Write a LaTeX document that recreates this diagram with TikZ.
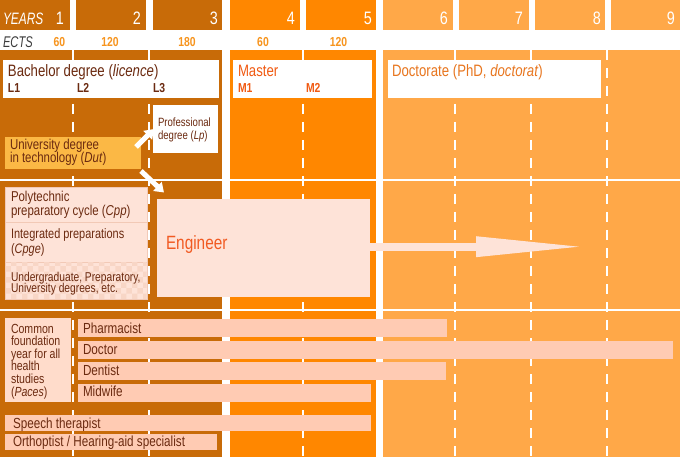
\documentclass[tikz,border=0pt]{standalone}
\usepackage{fontspec}
\setmainfont{Liberation Sans}[FakeStretch=0.8]
\newfontfamily\condf{Liberation Sans}[FakeStretch=0.72]
\usetikzlibrary{arrows.meta,patterns,calc}
\definecolor{cbrown}{HTML}{C86B08}
\definecolor{corange}{HTML}{FF8700}
\definecolor{clight}{HTML}{FFA848}
\definecolor{cdut}{HTML}{FBB845}
\definecolor{cpink}{HTML}{FEE3D8}
\definecolor{cpinkline}{HTML}{F2C9B6}
\definecolor{ccheck}{HTML}{F8D6C6}
\definecolor{cbar}{HTML}{FFCBB3}
\definecolor{cpaces}{HTML}{FFDCCB}
\definecolor{ctext}{HTML}{6B2A10}
\definecolor{cmaster}{HTML}{F15A12}
\definecolor{cdoc}{HTML}{E8761F}
\definecolor{ceng}{HTML}{F15A22}
\definecolor{cects}{HTML}{F7941D}
\definecolor{cgray}{HTML}{3C3C3C}
\newcommand\myfs[1]{\fontsize{#1}{#1}\selectfont}
\begin{document}
\begin{tikzpicture}[x=1pt,y=-1pt,
  rect/.style={inner sep=0,outer sep=0,anchor=north west,draw=none},
  txt/.style={inner sep=0,outer sep=0,anchor=base west,text=ctext},
  yr/.style={inner sep=0,outer sep=0,anchor=base east,text=white,font=\myfs{18}},
  ectsn/.style={inner sep=0,outer sep=0,anchor=base,text=cects,font=\bfseries\myfs{13}},
  dline/.style={white,line width=1.6,dash pattern=on 10pt off 8pt},
  hline/.style={white,line width=1.5},
  warrow/.style={white,line width=5,-{Triangle[length=9pt,width=12pt]}},
  lbl/.style={txt,font=\myfs{14.6}},
  sbox/.style={rect,fill=cpink,draw=cpinkline,line width=0.8},
  bar/.style={rect,fill=cbar},
  big/.style={txt,font=\myfs{16.5}},
  lev/.style={txt,font=\bfseries\myfs{13}},
]
\useasboundingbox (0,0) rectangle (680,457);
\fill[white] (0,0) rectangle (680,457);
% header year boxes
\node[rect,fill=cbrown,minimum width=70,minimum height=30] (y1) at (0,0) {};
\node[rect,fill=cbrown,minimum width=70,minimum height=30] (y2) at (76,0) {};
\node[rect,fill=cbrown,minimum width=69,minimum height=30] (y3) at (153,0) {};
\node[rect,fill=corange,minimum width=70,minimum height=30] (y4) at (230,0) {};
\node[rect,fill=corange,minimum width=70,minimum height=30] (y5) at (306,0) {};
\node[rect,fill=clight,minimum width=70,minimum height=30] (y6) at (383,0) {};
\node[rect,fill=clight,minimum width=70,minimum height=30] (y7) at (458.5,0) {};
\node[rect,fill=clight,minimum width=70,minimum height=30] (y8) at (535,0) {};
\node[rect,fill=clight,minimum width=69,minimum height=30] (y9) at (611,0) {};
\node[txt,text=white,font=\condf\itshape\myfs{16.5}] (yearsl) at (3,25) {YEARS};
\node[yr] (n1) at (64,25) {1};
\node[yr] (n2) at (141,25) {2};
\node[yr] (n3) at (218,25) {3};
\node[yr] (n4) at (295,25) {4};
\node[yr] (n5) at (372,25) {5};
\node[yr] (n6) at (448,25) {6};
\node[yr] (n7) at (523,25) {7};
\node[yr] (n8) at (601,25) {8};
\node[yr] (n9) at (675,25) {9};
% ECTS row
\node[txt,text=cgray,font=\condf\itshape\myfs{15.5}] (ectsl) at (3,48) {ECTS};
\node[ectsn] (e1) at (59.5,46.5) {60};
\node[ectsn] (e2) at (110,46.5) {120};
\node[ectsn] (e3) at (187,46.5) {180};
\node[ectsn] (e4) at (263,46.5) {60};
\node[ectsn] (e5) at (338.5,46.5) {120};
% body regions
\node[rect,fill=cbrown,minimum width=222,minimum height=407] (rb) at (0,50) {};
\node[rect,fill=corange,minimum width=146,minimum height=407] (ro) at (230,50) {};
\node[rect,fill=clight,minimum width=297,minimum height=407] (rl) at (383,50) {};
% dashed column lines
\foreach \xx in {73,149,303,455,531,607} \draw[dline] (\xx,50) -- (\xx,457);
% horizontal white lines
\draw[hline] (0,180) -- (680,180);
\draw[hline] (0,310) -- (680,310);
% degree boxes
\node[rect,fill=white,minimum width=216,minimum height=38] (bach) at (3,60) {};
\node[rect,fill=white,minimum width=139,minimum height=38] (mast) at (233,60) {};
\node[rect,fill=white,minimum width=213,minimum height=38] (doct) at (388,60) {};
\node[big] (bacht) at (8,77) {Bachelor degree (\textit{licence})};
\node[lev] (l1) at (8,93) {L1};
\node[lev] (l2) at (77,93) {L2};
\node[lev] (l3) at (153,93) {L3};
\node[big,text=cmaster] (mastt) at (238,77) {Master};
\node[lev,text=cmaster] (m1) at (238,93) {M1};
\node[lev,text=cmaster] (m2) at (306,93) {M2};
\node[big,text=cdoc] (doctt) at (392,77) {Doctorate (PhD, \textit{doctorat})};
% professional degree and Dut
\node[rect,fill=white,minimum width=65,minimum height=48] (prof) at (153,105) {};
\node[txt,font=\myfs{12}] (prof1) at (158,127) {Professional};
\node[txt,font=\myfs{12}] (prof2) at (158,139.5) {degree (\textit{Lp})};
\node[rect,fill=cdut,minimum width=136,minimum height=32] (dut) at (5,137) {};
\node[txt,font=\myfs{14.3}] (dut1) at (10,150) {University degree};
\node[txt,font=\myfs{14.3}] (dut2) at (10,163) {in technology (\textit{Dut})};
\draw[warrow] ($(dut.north east)+(-5,10)$) -- ($(prof.west)+(1,0)$);
\coordinate (a2tip) at (164,192.5);
\draw[warrow] ($(dut.south east)+(0,2)$) -- (a2tip);
% preparation boxes
\node[sbox,minimum width=142,minimum height=35] (cpp) at (5,187) {};
\node[sbox,minimum width=142,minimum height=40] (cpge) at (5,222) {};
\node[sbox,minimum width=142,minimum height=37] (ugrad) at (5,262) {};
\fill[pattern=checkerboard,pattern color=ccheck] ($(ugrad.north west)+(0.5,0.5)$) rectangle ($(ugrad.south east)+(-0.5,-0.5)$);
\node[txt,font=\myfs{14.3}] (cpp1) at (11,202) {Polytechnic};
\node[txt,font=\myfs{14.3}] (cpp2) at (11,215) {preparatory cycle (\textit{Cpp})};
\node[txt,font=\myfs{13.7}] (cpge1) at (11,239) {Integrated preparations};
\node[txt,font=\myfs{13.7}] (cpge2) at (11,253) {(\textit{Cpge})};
\node[txt,font=\myfs{12.8}] (ug1) at (11,281) {Undergraduate, Preparatory,};
\node[txt,font=\myfs{12.8}] (ug2) at (11,292.5) {University degrees, etc.};
% engineer
\node[rect,fill=cpink,minimum width=213,minimum height=98] (eng) at (157,199) {};
\node[txt,text=ceng,font=\myfs{19.2}] (engt) at (166,250) {Engineer};
\coordinate (engtip) at (588,246.7);
\draw[cpink,line width=8,-{Triangle[length=112pt,width=18.5pt]}] (eng.east |- engtip) -- (engtip);
% health
\node[rect,fill=cpaces,minimum width=66,minimum height=84] (paces) at (5,318) {};
\node[txt,font=\myfs{13.2}] (pa1) at (11,333) {Common};
\node[txt,font=\myfs{13.2}] (pa2) at (11,345.6) {foundation};
\node[txt,font=\myfs{13.2}] (pa3) at (11,358.2) {year for all};
\node[txt,font=\myfs{13.2}] (pa4) at (11,370.8) {health};
\node[txt,font=\myfs{13.2}] (pa5) at (11,383.4) {studies};
\node[txt,font=\myfs{13.2}] (pa6) at (11,396) {(\textit{Paces})};
\node[bar,minimum width=369,minimum height=18] (pharm) at (78,319) {};
\node[bar,minimum width=595,minimum height=18] (doctor) at (78,341) {};
\node[bar,minimum width=368,minimum height=18] (dent) at (78,362) {};
\node[bar,minimum width=293,minimum height=18] (midw) at (78,384) {};
\node[bar,minimum width=366,minimum height=16] (speech) at (5,415) {};
\node[bar,minimum width=212,minimum height=16] (ortho) at (5,434) {};
\node[lbl] (pharmt) at (83,333) {Pharmacist};
\node[lbl] (doctort) at (83,354) {Doctor};
\node[lbl] (dentt) at (83,375) {Dentist};
\node[lbl] (midwt) at (83,396.5) {Midwife};
\node[lbl] (speecht) at (13,428) {Speech therapist};
\node[lbl] (orthot) at (13,446.7) {Orthoptist / Hearing-aid specialist};
\end{tikzpicture}
\end{document}
